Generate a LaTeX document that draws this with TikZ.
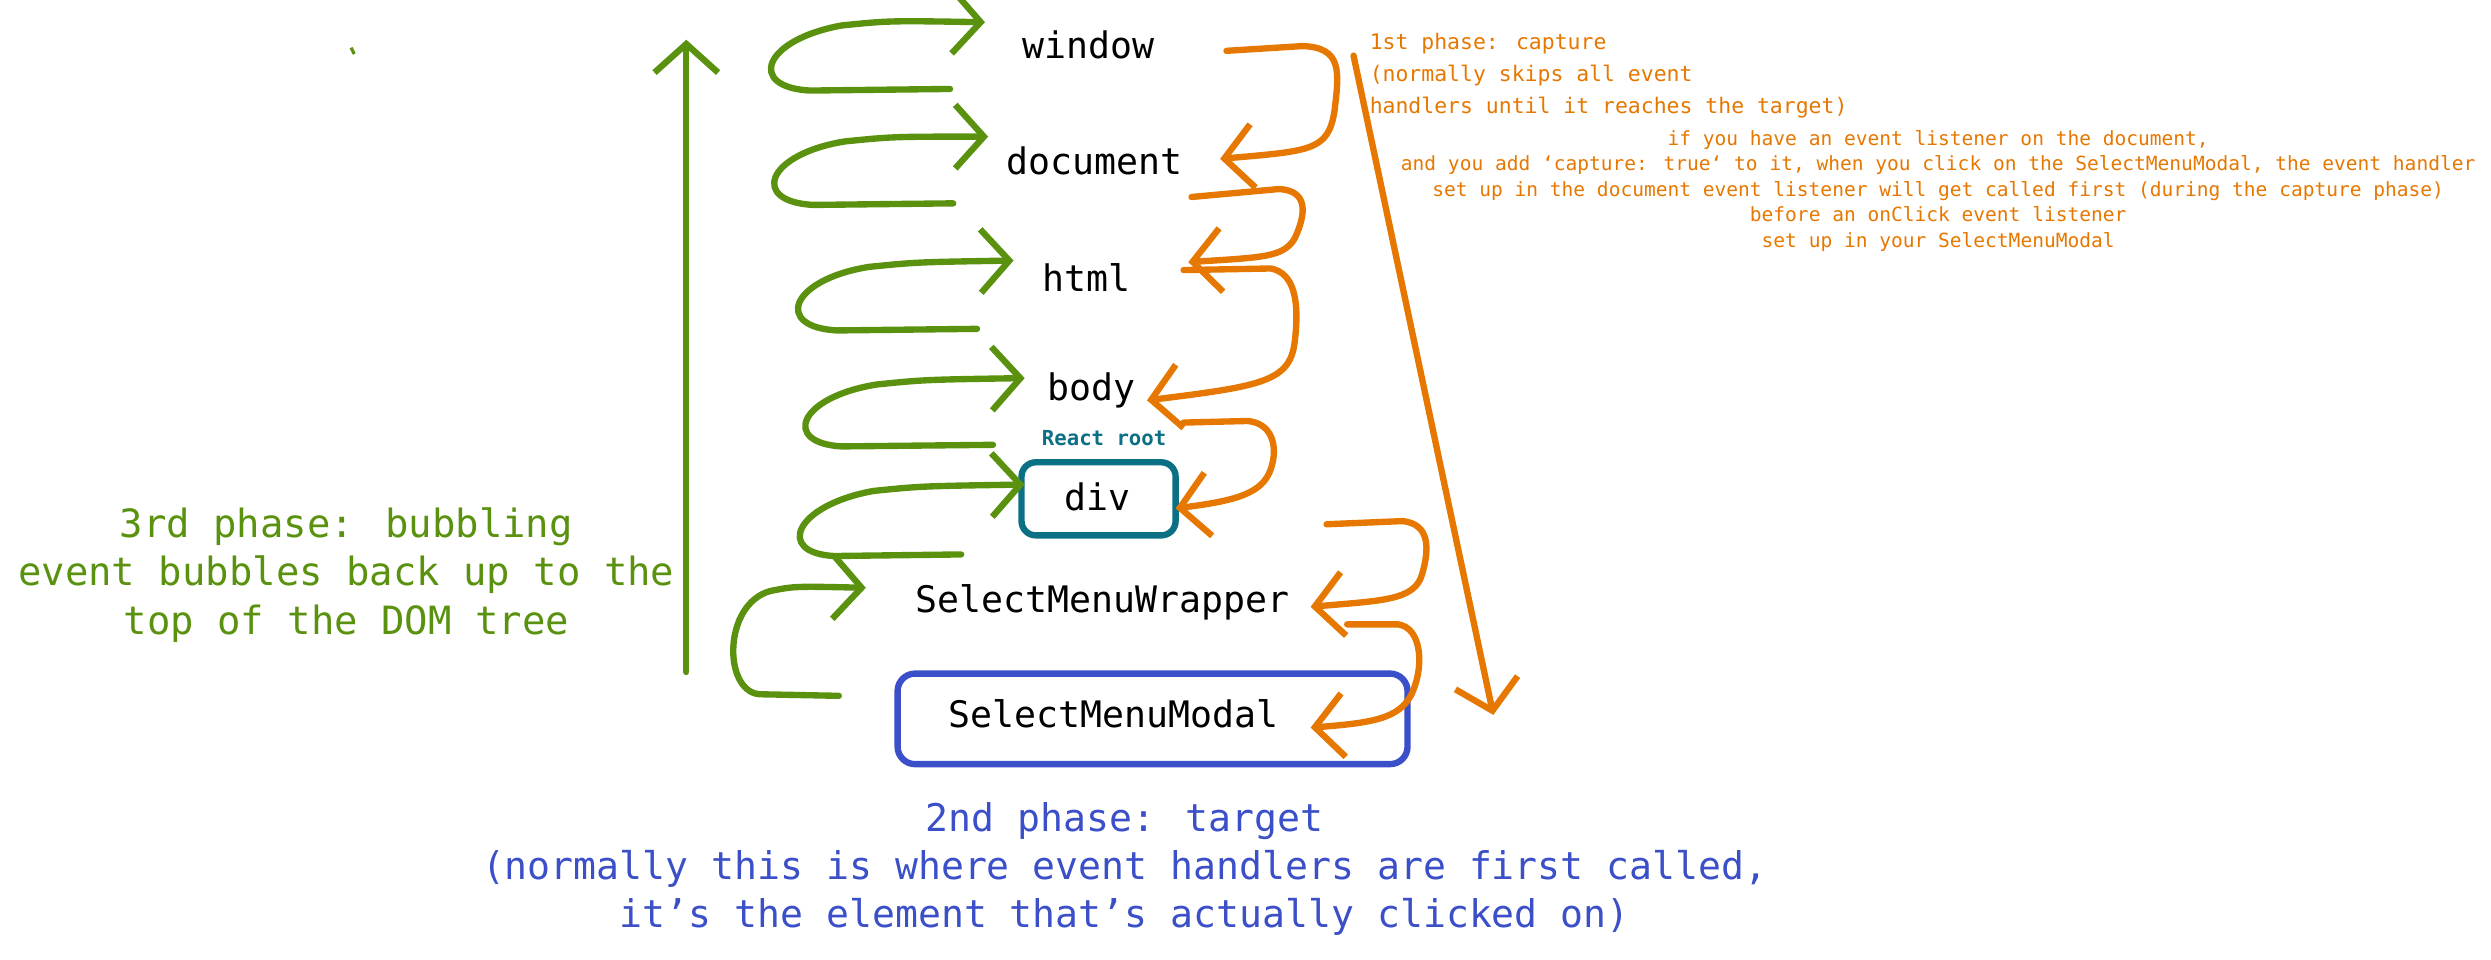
\documentclass[tikz,border=0pt]{standalone}
\usepackage{fontspec}
\setmainfont{DejaVu Sans Mono}
\usetikzlibrary{arrows.meta}
\definecolor{gr}{HTML}{5A9210}
\definecolor{orng}{HTML}{E67700}
\definecolor{blu}{HTML}{3B4FC8}
\definecolor{teal2}{HTML}{0C7085}
\begin{document}
\begin{tikzpicture}[x=1pt,y=-1pt,
  lbl/.style={font=\fontsize{23}{26}\selectfont,text=black,inner sep=2pt},
  garr/.style={draw=gr,line width=4pt,line cap=round,-{Straight Barb[length=18pt,width=40pt,line width=4pt]}},
  oarr/.style={draw=orng,line width=4pt,line cap=round,-{Straight Barb[length=18pt,width=40pt,line width=4pt]}},
  note/.style={text=orng,align=left,inner sep=0pt}]
\useasboundingbox (0,0) rectangle (1568,604);
% labels
\node[lbl] (win) at (685,28) {window};
\node[lbl] (doc) at (689,101) {document};
\node[lbl] (html) at (684,175) {html};
\node[lbl] (body) at (687,246) {body};
\node[lbl] (div) at (691,313) {div};
\draw[teal2,line width=4pt,rounded corners=9pt] (643,291) rectangle (740,337);
\node[text=teal2,font=\bfseries\fontsize{13}{15}\selectfont] (rr) at (695,276) {React root};
\node[lbl] (smw) at (694,379) {SelectMenuWrapper};
\node[lbl] (smm) at (701,449) {SelectMenuModal};
\draw[blu,line width=4pt,rounded corners=11pt] (565,424) rectangle (886,481);
% green loops
\draw[garr] (598,56) -- (510,57) .. controls (470,55) and (480,25) .. (530,16) .. controls (560,13) .. (620,14);
\draw[garr] (600,128) -- (512,129) .. controls (472,127) and (482,97) .. (532,89) .. controls (562,86) .. (622,86);
\draw[garr] (615,207) -- (527,208) .. controls (487,206) and (497,176) .. (547,168) .. controls (577,165) .. (638,164);
\draw[garr] (625,280) -- (530,281) .. controls (492,279) and (502,250) .. (552,242) .. controls (582,239) .. (645,238);
\draw[garr] (605,349) -- (525,350) .. controls (488,348) and (500,318) .. (550,309) .. controls (580,306) .. (645,305);
\draw[garr] (528,438) -- (478,437) .. controls (455,435) and (455,380) .. (485,372) .. controls (500,369) .. (545,370);
\draw[gr,line width=2pt] (221,30) -- (223,34);
% green big arrow
\draw[garr] (432,423) -- (432,25);
% orange loops
\draw[oarr] (772,32) -- (820,29) .. controls (845,30) and (843,45) .. (840,70) .. controls (836,95) and (825,95) .. (768,100);
\draw[oarr] (750,124) -- (805,119) .. controls (824,120) and (822,135) .. (815,150) .. controls (808,162) and (795,162) .. (748,165);
\draw[oarr] (745,170) -- (800,169) .. controls (815,172) and (818,190) .. (815,215) .. controls (812,240) and (795,243) .. (722,252);
\draw[oarr] (745,266) -- (785,265) .. controls (800,266) and (805,280) .. (800,295) .. controls (795,310) and (780,315) .. (740,320);
\draw[oarr] (835,330) -- (883,328) .. controls (900,330) and (900,345) .. (895,362) .. controls (890,378) and (870,378) .. (825,382);
\draw[oarr] (848,393) -- (880,393) .. controls (895,395) and (897,420) .. (888,438) .. controls (880,452) and (865,455) .. (825,458);
% orange big arrow
\draw[oarr] (852,35) -- (940,450);
% texts
\node[note,anchor=north west,font=\fontsize{13.5}{20}\selectfont] (n1) at (862,21) {1st phase: capture\\(normally skips all event\\handlers until it reaches the target)};
\node[note,align=center,anchor=north,font=\fontsize{12.3}{16}\selectfont] (n2) at (1220,82) {if you have an event listener on the document,\\and you add `capture: true` to it, when you click on the SelectMenuModal, the event handler\\set up in the document event listener will get called first (during the capture phase)\\before an onClick event listener\\set up in your SelectMenuModal};
\node[text=gr,align=center,font=\fontsize{24.5}{30.5}\selectfont,inner sep=0pt] (t3) at (218,362) {3rd phase: bubbling\\event bubbles back up to the\\top of the DOM tree};
\node[text=blu,align=center,font=\fontsize{24}{30}\selectfont,inner sep=0pt] (t2) at (708,547) {2nd phase: target\\(normally this is where event handlers are first called,\\it's the element that's actually clicked on)};
\end{tikzpicture}
\end{document}
